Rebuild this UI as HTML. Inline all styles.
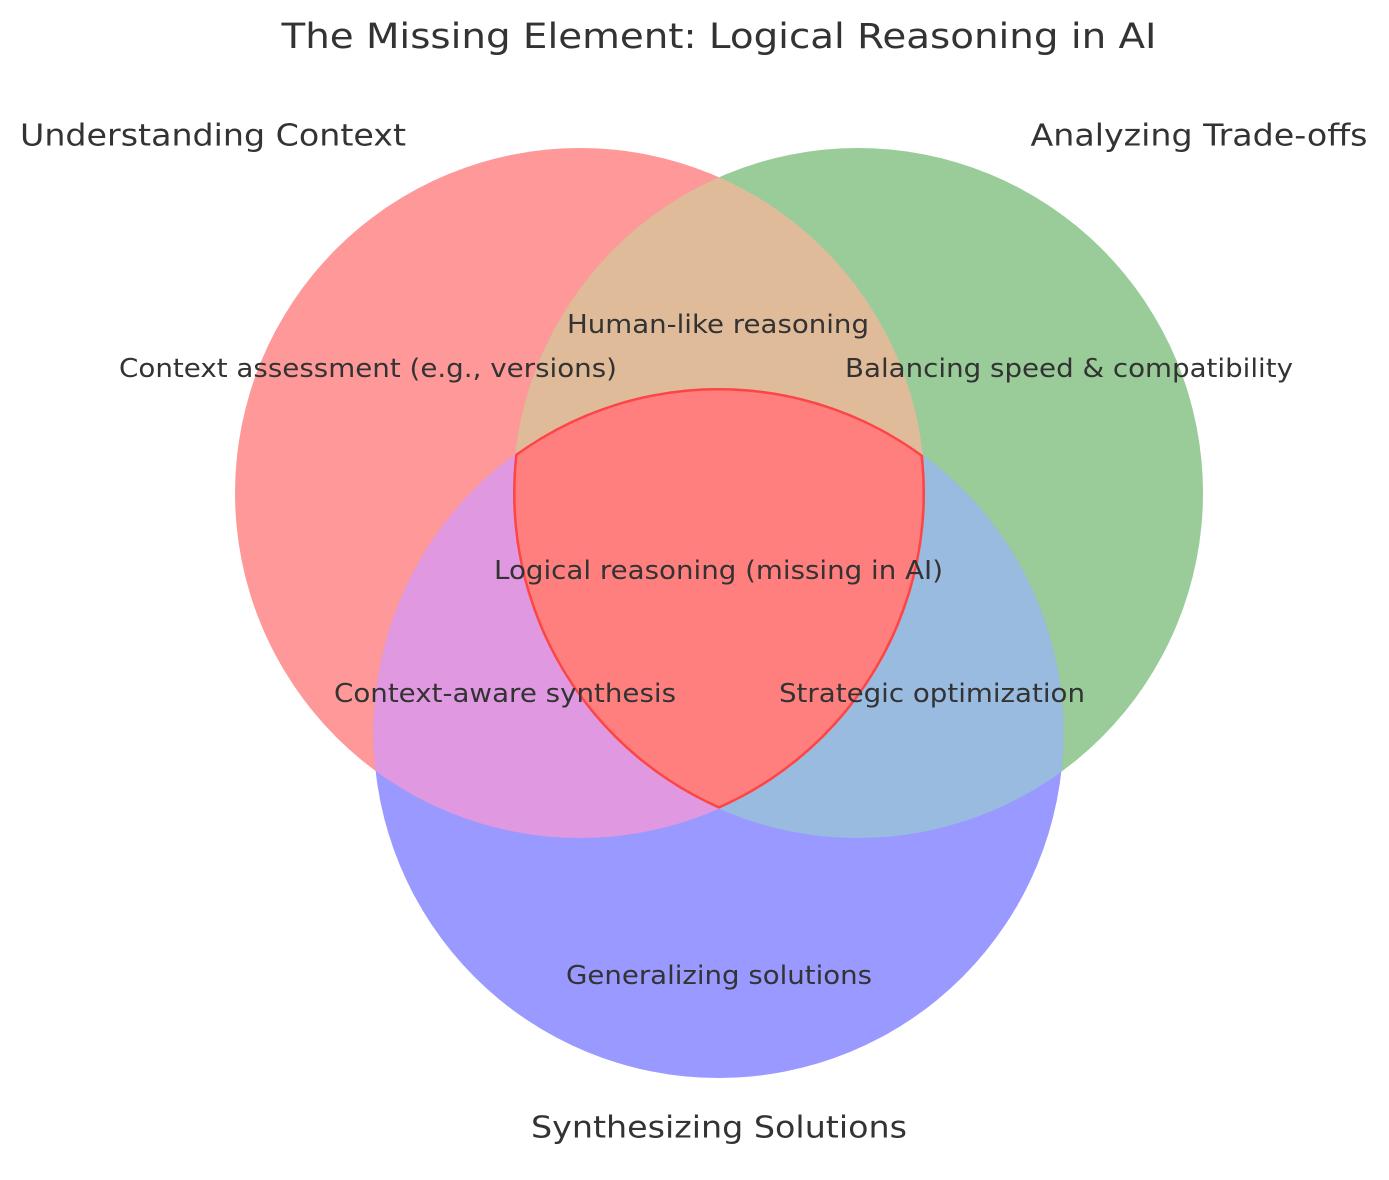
<!DOCTYPE html>
<html><head><meta charset="utf-8"><style>
html,body{margin:0;padding:0;background:#fff;}
svg{display:block;}
text{font-family:"DejaVu Sans","Liberation Sans",sans-serif;fill:#333;dominant-baseline:central;text-anchor:middle;}
</style></head><body>
<svg width="1389" height="1180" viewBox="0 0 1389 1180" xmlns="http://www.w3.org/2000/svg">
<defs>
<clipPath id="cA"><circle cx="580" cy="493" r="345"/></clipPath>
<clipPath id="cB"><circle cx="858" cy="493" r="345"/></clipPath>
<clipPath id="cC"><circle cx="718.5" cy="733" r="345"/></clipPath>
</defs>
<circle cx="580" cy="493" r="345" fill="#ff9999"/>
<circle cx="858" cy="493" r="345" fill="#99cc99"/>
<circle cx="718.5" cy="733" r="345" fill="#9999ff"/>
<circle cx="580" cy="493" r="345" fill="#e0bb99" clip-path="url(#cB)"/>
<circle cx="580" cy="493" r="345" fill="#e099e0" clip-path="url(#cC)"/>
<circle cx="858" cy="493" r="345" fill="#99bbe0" clip-path="url(#cC)"/>
<g clip-path="url(#cC)"><g clip-path="url(#cB)">
<circle cx="580" cy="493" r="345" fill="#ff7f7f"/>
</g></g>
<g clip-path="url(#cC)"><g clip-path="url(#cB)"><g clip-path="url(#cA)">
<circle cx="580" cy="493" r="345" fill="none" stroke="#ff4444" stroke-width="5"/>
<circle cx="858" cy="493" r="345" fill="none" stroke="#ff4444" stroke-width="5"/>
<circle cx="718.5" cy="733" r="345" fill="none" stroke="#ff4444" stroke-width="5"/>
</g></g></g>
<text x="719" y="37" font-size="35" textLength="875" lengthAdjust="spacingAndGlyphs">The Missing Element: Logical Reasoning in AI</text>
<text x="213" y="136" font-size="30" textLength="386" lengthAdjust="spacingAndGlyphs">Understanding Context</text>
<text x="1199" y="136" font-size="30" textLength="337" lengthAdjust="spacingAndGlyphs">Analyzing Trade-offs</text>
<text x="719" y="1128" font-size="30" textLength="376" lengthAdjust="spacingAndGlyphs">Synthesizing Solutions</text>
<text x="718" y="325" font-size="25.5" textLength="302" lengthAdjust="spacingAndGlyphs">Human-like reasoning</text>
<text x="368" y="369" font-size="25.5" textLength="498" lengthAdjust="spacingAndGlyphs">Context assessment (e.g., versions)</text>
<text x="1069" y="369" font-size="25.5" textLength="448" lengthAdjust="spacingAndGlyphs">Balancing speed &amp; compatibility</text>
<text x="718.5" y="571" font-size="25.5" textLength="449" lengthAdjust="spacingAndGlyphs">Logical reasoning (missing in AI)</text>
<text x="505" y="694" font-size="25.5" textLength="342" lengthAdjust="spacingAndGlyphs">Context-aware synthesis</text>
<text x="932" y="694" font-size="25.5" textLength="306" lengthAdjust="spacingAndGlyphs">Strategic optimization</text>
<text x="719" y="976" font-size="25.5" textLength="306" lengthAdjust="spacingAndGlyphs">Generalizing solutions</text>
</svg>
</body></html>
